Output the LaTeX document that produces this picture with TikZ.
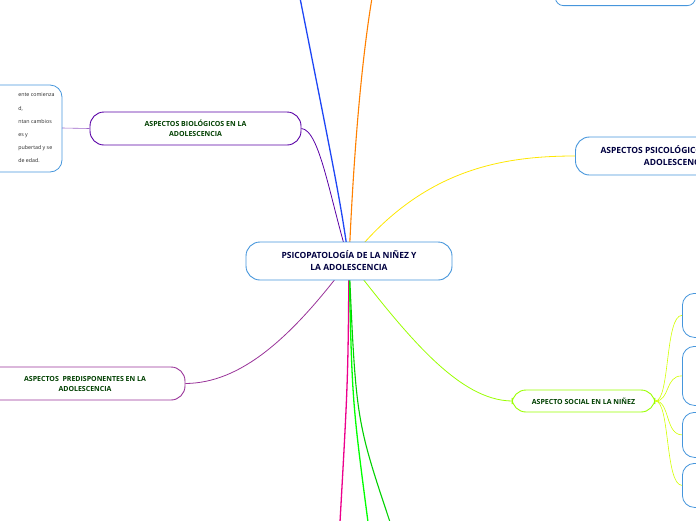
\documentclass[tikz,border=0pt]{standalone}
\usepackage{fontspec}
\setmainfont{Open Sans}
\begin{document}
\begin{tikzpicture}[x=1pt,y=-1pt,
 main/.style={draw=#1,rounded corners=14pt,line width=0.9pt,fill=white},
 t/.style={font=\bfseries\fontsize{7}{10}\selectfont,align=center,text=green!25!black},
 lt/.style={font=\fontsize{5.3}{13.2}\selectfont,align=left,anchor=east,text=black!85}]
\useasboundingbox (0,0) rectangle (696,520);
\clip (0,0) rectangle (696,520);
\definecolor{bl}{RGB}{70,150,220}
\definecolor{lb}{RGB}{30,70,245}
% connectors
\coordinate (c) at (349,261);
\coordinate (topA) at (300,-2); \coordinate (topB) at (372,-2);
\coordinate (botA) at (340,522); \coordinate (botB) at (368,522); \coordinate (botC) at (390,522);
\node[main=bl,minimum width=135pt,minimum height=38pt] (psi) at (643,156) {};
\node[main=violet!70!blue,minimum width=211pt,minimum height=33pt] (bio) at (195.5,128.5) {};
\node[main=violet!80,minimum width=200pt,minimum height=33pt] (pre) at (85,383.5) {};
\node[main=lime!80!green,minimum width=143pt,minimum height=22pt] (soc) at (583.5,401) {};
\draw[lb,line width=1.3pt] (c) .. controls (340,200) .. (topA);
\draw[orange,line width=1.1pt] (c) .. controls (355,120) and (365,40) .. (topB);
\draw[yellow!90!orange,line width=0.8pt] (c) .. controls (420,170) and (500,156) .. (psi.west);
\draw[violet!70!blue,line width=0.8pt] (c) .. controls (330,200) and (320,130) .. (bio.east);
\draw[violet!80,line width=0.8pt] (c) .. controls (290,340) and (240,383) .. (pre.east);
\draw[magenta,line width=1.3pt] (c) .. controls (348,380) .. (botA);
\draw[green,line width=1.3pt] (c) .. controls (352,400) .. (botB);
\draw[green!70!black!60!green,line width=1.1pt] (c) .. controls (356,420) .. (botC);
\draw[lime!80!green,line width=0.8pt] (c) .. controls (410,340) and (460,400) .. (soc.west);
\draw[violet!70!blue!60,line width=0.6pt] (62,128) -- (bio.west);
% left text box
\node[draw=bl,rounded corners=12pt,line width=0.8pt,minimum width=100pt,minimum height=87pt] (lbx) at (12,128.5) {};
\node[lt] at (58,128) {ente comienza\\d,\\ntan cambios\\es y\\pubertad y se\\de edad.};
% social children
\foreach \n/\ya/\h in {s1/293/44,s2/346/59,s3/412/45,s4/463/44}{
 \node[draw=bl,rounded corners=12pt,line width=0.8pt,minimum width=40pt,minimum height=\h pt,anchor=north west,fill=white] (\n) at (682,\ya) {};
 \draw[lime!70!yellow,line width=0.6pt] (soc.east) .. controls (670,401) and (665,\ya+\h/2) .. (\n.west);
}
% top right box
\node[draw=bl,rounded corners=8pt,line width=0.8pt,minimum width=140pt,minimum height=24pt,anchor=south west] (tr) at (555,6) {};
% central
\node[main=bl,minimum width=206pt,minimum height=38pt] (cen) at (349,261) {};
\node[t,text=blue!25!black,font=\bfseries\fontsize{8.5}{12}\selectfont] at (cen) {PSICOPATOLOGÍA DE LA NIÑEZ Y\\LA ADOLESCENCIA};
\node[t] at (bio) {ASPECTOS BIOLÓGICOS EN LA\\ADOLESCENCIA};
\node[t] at (pre) {ASPECTOS\ \ PREDISPONENTES EN LA\\ADOLESCENCIA};
\node[t] at (soc) {ASPECTO SOCIAL EN LA NIÑEZ};
\node[t,text=blue!25!black,font=\bfseries\fontsize{8.5}{12}\selectfont,anchor=west] at (597,156) {ASPECTOS PSICOLÓGICOS EN LA\\\hspace*{18pt}ADOLESCENCIA};
\end{tikzpicture}
\end{document}
